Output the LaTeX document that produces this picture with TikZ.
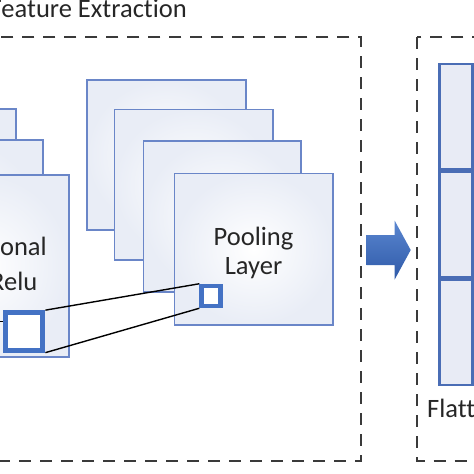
\documentclass[tikz,border=0pt]{standalone}
\usepackage{fontspec}
\setmainfont[Ligatures=CommonOff]{Carlito}
\definecolor{txt}{HTML}{262626}
\definecolor{mapline}{HTML}{6A86C8}
\definecolor{mapfill}{HTML}{E9EDF6}
\definecolor{sqblue}{HTML}{4472C4}
\definecolor{flline}{HTML}{4A6DB5}
\definecolor{flfill}{HTML}{E8EBF5}
\definecolor{dash}{HTML}{3A3A3A}
\definecolor{arrtop}{HTML}{5A86D0}
\definecolor{arrbot}{HTML}{2F5AA8}
\tikzset{
  dbox/.style={draw=dash, line width=2pt, dash pattern=on 12pt off 9pt},
  fmap/.style={draw=mapline, line width=1.6pt, shading=radial, inner color=white, outer color=mapfill},
  lbl/.style={text=txt, inner sep=0pt, font=\fontsize{26.5}{30}\selectfont},
  bigsq/.style={draw=sqblue, fill=white, line width=5pt, inner sep=0pt, minimum width=37pt, minimum height=37.5pt},
  smallsq/.style={draw=sqblue, fill=white, line width=4.5pt, inner sep=0pt, minimum width=19pt, minimum height=20pt},
  link/.style={draw=black, line width=1.4pt},
  cell/.style={draw=flline, fill=flfill, line width=2.5pt, inner sep=0pt, minimum width=33.3pt, minimum height=105.4pt},
  stub/.style={draw=black, line width=1.4pt},
}
\begin{document}
\begin{tikzpicture}[x=1pt,y=-1pt]
\useasboundingbox (0,0) rectangle (474,474);
\clip (0,0) rectangle (474,474);
% title
\node[lbl, anchor=base west] (title) at (-10.5,17.5) {Feature Extraction};
% dashed boxes
\draw[dbox] (-40,37) rectangle (360.7,461);
\draw[dbox] (416.7,37) rectangle (520,461);
% convolutional stack
\filldraw[fmap] (-154,109) rectangle (16,291);
\filldraw[fmap] (-127,140) rectangle (43,322);
\filldraw[fmap] (-100,175) rectangle (69,357);
\node[lbl, anchor=base east] (conv1) at (47,255) {Convolutional};
\node[lbl, anchor=base east] (conv2) at (37.5,290) {Layer + Relu};
% pooling stack
\filldraw[fmap] (87,80) rectangle (245.7,230);
\filldraw[fmap] (114.3,109.3) rectangle (273,260);
\filldraw[fmap] (143.3,140.7) rectangle (300.7,291.7);
\filldraw[fmap] (174.3,173.3) rectangle (333,325);
\node[lbl, anchor=base] (pool1) at (253.5,245) {Pooling};
\node[lbl, anchor=base] (pool2) at (253.5,274) {Layer};
% receptive-field squares and links
\node[bigsq] (cs) at (24.4,331.4) {};
\node[smallsq] (ps) at (211.1,296) {};
\draw[link] (cs.north east) -- (ps.north west);
\draw[link] (cs.south east) -- (ps.south west);
\node[bigsq] at (cs) {};
\node[smallsq] at (ps) {};
\coordinate (inL) at (-6,321.7);
\draw[link] (inL) -- (inL -| cs.west);
% arrow
\shade[top color=arrtop, bottom color=arrbot]
  (366.7,235) -- (394.7,235) -- (394.7,220.7) -- (410.7,250) -- (394.7,279.5) -- (394.7,265) -- (366.7,265) -- cycle;
% flatten column
\node[cell, anchor=north west] (c1) at (438,62.7) {};
\node[cell, anchor=north] (c2) at (c1.south) {};
\node[cell, anchor=north] (c3) at (c2.south) {};
\coordinate (o1) at (480,115);
\coordinate (o2) at (480,333);
\draw[stub] (o1 -| c1.east) -- (o1);
\draw[stub] (o2 -| c3.east) -- (o2);
\node[lbl, anchor=base west] (flat) at (427,417) {Flatten};
\end{tikzpicture}
\end{document}
